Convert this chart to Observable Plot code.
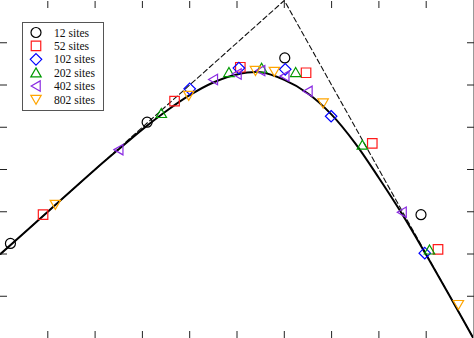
<!DOCTYPE html>
<html><head><meta charset="utf-8">
<script src="https://cdn.jsdelivr.net/npm/d3@7"></script>
<script src="https://cdn.jsdelivr.net/npm/@observablehq/plot@0.6"></script>
<style>
body{margin:0;background:#fff}
#wrap{position:relative;width:474px;height:338px;overflow:hidden}
#legend{position:absolute;left:22px;top:22px}
</style>
</head><body><div id="wrap"></div>
<script>
// ---- data ----
const seriesNames  = ["12 sites","52 sites","102 sites","202 sites","402 sites","802 sites"];
const seriesColors = ["#000000","#ff1a1a","#0000ff","#009a00","#8a2be2","#ffa500"];
const seriesShapes = ["circle","square","diamond","triangleUp","triangleLeft","triangleDown"];

const s12x  = [0.21, 3.10, 6.01, 8.89];
const s12y  = [2.25, 5.12, 6.64, 2.93];
const s52x  = [0.90, 3.68, 5.07, 6.46, 7.86, 9.25];
const s52y  = [2.93, 5.62, 6.42, 6.29, 4.62, 2.11];
const s102x = [4.00, 5.04, 6.02, 6.99, 8.97];
const s102y = [5.91, 6.40, 6.37, 5.26, 2.02];
const s202x = [3.40, 4.83, 5.52, 6.24, 7.65, 9.07];
const s202y = [5.33, 6.30, 6.40, 6.30, 4.58, 2.10];
const s402x = [2.50, 4.50, 5.00, 5.50, 6.01, 6.50, 8.49];
const s402y = [4.47, 6.13, 6.26, 6.34, 6.21, 5.85, 2.99];
const s802x = [1.16, 3.98, 5.39, 5.79, 6.82, 9.68];
const s802y = [3.17, 5.75, 6.34, 6.32, 5.57, 0.80];

const curveX = [0, 1, 2, 2.5, 3, 3.5, 4, 4.5, 5, 5.5, 6, 6.5, 7, 7.5, 8, 8.5, 9, 9.5, 10];
const curveY = [2.0, 3.0, 4.0, 4.48, 4.95, 5.38, 5.76, 6.06, 6.25, 6.30, 6.12, 5.80, 5.30, 4.62, 3.80, 2.93, 1.98, 1.0, 0.0];

const boundX = [0, 6, 10];
const boundY = [2, 8, 0];

const xDomain = [0, 10];
const yDomain = [0, 8];
const xTicks = [1, 2, 3, 4, 5, 6, 7, 8, 9];
const yTicks = [1, 2, 3, 4, 5, 6, 7];

// ---- symbols ----
function poly(ctx, pts){ ctx.moveTo(pts[0][0], pts[0][1]); for (let i = 1; i < pts.length; i++) ctx.lineTo(pts[i][0], pts[i][1]); ctx.closePath(); }
function tri(angle0){
  return {draw(ctx, size){
    const r = Math.sqrt(size / Math.PI), R = 1.2 * r;
    const pts = [0,1,2].map(i => { const a = angle0 + i * 2 * Math.PI / 3; return [R * Math.cos(a), R * Math.sin(a) + (angle0 === -Math.PI/2 ? R*0.2 : angle0 === Math.PI/2 ? -R*0.2 : 0)]; });
    if (angle0 === Math.PI) pts.forEach(p => p[0] += R * 0.2);
    poly(ctx, pts);
  }};
}
const symbolDefs = {
  circle: {draw(ctx, size){ const r = Math.sqrt(size / Math.PI); ctx.moveTo(r, 0); ctx.arc(0, 0, r, 0, 2 * Math.PI); }},
  square: {draw(ctx, size){ const h = 0.95 * Math.sqrt(size / Math.PI); poly(ctx, [[-h,-h],[h,-h],[h,h],[-h,h]]); }},
  diamond: {draw(ctx, size){ const h = 1.15 * Math.sqrt(size / Math.PI); poly(ctx, [[0,-h],[h,0],[0,h],[-h,0]]); }},
  triangleUp: tri(-Math.PI / 2),
  triangleDown: tri(Math.PI / 2),
  triangleLeft: tri(Math.PI)
};

const allX = [s12x, s52x, s102x, s202x, s402x, s802x];
const allY = [s12y, s52y, s102y, s202y, s402y, s802y];
const curve = curveX.map((x, i) => ({x, y: curveY[i]}));
const bound = boundX.map((x, i) => ({x, y: boundY[i]}));

const dotMarks = seriesNames.map((name, k) =>
  Plot.dot(allX[k].map((x, i) => ({x, y: allY[k][i], s: name})), {
    x: "x", y: "y", r: 5, symbol: symbolDefs[seriesShapes[k]],
    stroke: seriesColors[k], fill: "none", strokeWidth: 1.2
  })
);

const chart = Plot.plot({
  width: 474, height: 338,
  marginTop: 0, marginLeft: 0, marginBottom: 0, marginRight: 1,
  style: {background: "#fff"},
  x: {domain: xDomain},
  y: {domain: yDomain},
  marks: [
    Plot.line(bound, {x: "x", y: "y", stroke: "#111", strokeWidth: 1.1, strokeDasharray: "5,3"}),
    Plot.line(curve, {x: "x", y: "y", stroke: "#000", strokeWidth: 2, curve: "catmull-rom"}),
    ...dotMarks,
    Plot.ruleX([xDomain[1]], {stroke: "#999"}),
    Plot.axisX(xTicks, {anchor: "bottom", tickSize: -7, tickFormat: () => "", label: null, stroke: "#222"}),
    Plot.axisX(xTicks, {anchor: "top", tickSize: -7, tickFormat: () => "", label: null, stroke: "#222"}),
    Plot.axisY(yTicks, {anchor: "left", tickSize: -7, tickFormat: () => "", label: null, stroke: "#222"}),
    Plot.axisY(yTicks, {anchor: "right", tickSize: -7, tickFormat: () => "", label: null, stroke: "#222"})
  ]
});
const wrap = document.getElementById("wrap");
wrap.appendChild(chart);

// ---- legend ----
const lw = 81, lh = 88;
const lg = d3.select(wrap).append("svg").attr("id", "legend").attr("width", lw + 1).attr("height", lh + 1);
lg.append("rect").attr("x", 0.5).attr("y", 0.5).attr("width", lw).attr("height", lh)
  .attr("fill", "#fff").attr("stroke", "#555").attr("stroke-width", 1);
seriesNames.forEach((name, k) => {
  const cy = 10.5 + k * 13.4;
  lg.append("path").attr("transform", `translate(14,${cy})`)
    .attr("d", d3.symbol(symbolDefs[seriesShapes[k]], Math.PI * 25)())
    .attr("fill", "none").attr("stroke", seriesColors[k]).attr("stroke-width", 1.2);
  lg.append("text").attr("x", 32).attr("y", cy).attr("dy", "0.35em")
    .attr("font-family", "'Liberation Serif', 'Times New Roman', serif").attr("font-size", 11.6)
    .attr("fill", "#111").text(name);
});
</script>
</body></html>
